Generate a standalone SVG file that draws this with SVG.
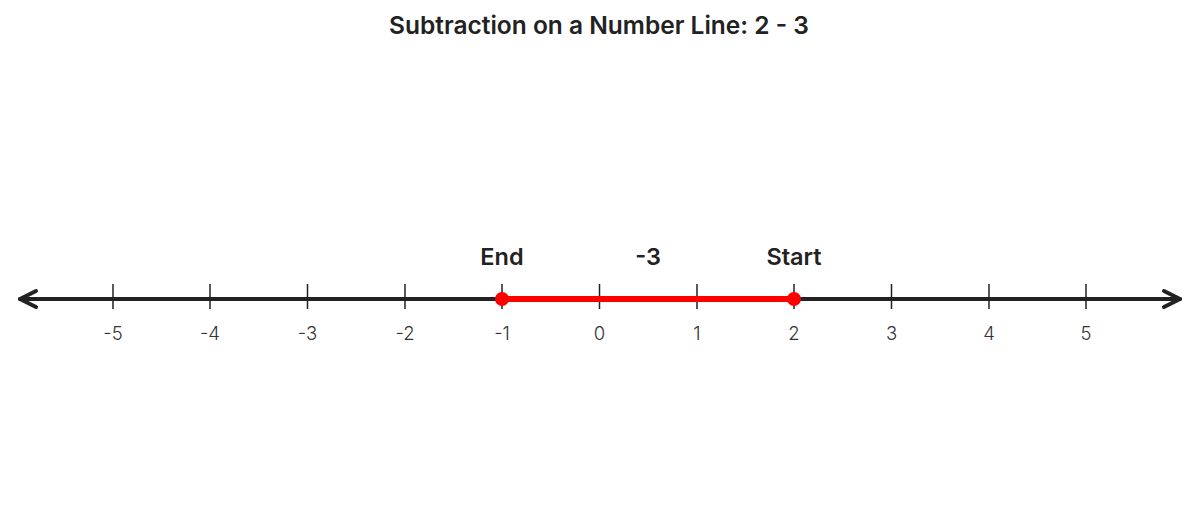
<svg xmlns="http://www.w3.org/2000/svg" width="1200" height="530" viewBox="0 0 1200 530">
<style>
.title{font-family:Inter,"Open Sans",sans-serif;font-size:24.5px;font-weight:600;fill:#222;text-anchor:middle}
.lbl{font-family:Inter,"Open Sans",sans-serif;font-size:23.5px;font-weight:600;fill:#222;text-anchor:middle}
.num{font-family:Inter,"Open Sans",sans-serif;font-size:18.5px;font-weight:300;fill:#333;text-anchor:middle}
.tick{stroke:#222;stroke-width:1.5}
.axis{stroke:#222;stroke-width:4;fill:none;stroke-linecap:round;stroke-linejoin:round}
</style>
<rect width="1200" height="530" fill="#fff"/>
<text class="title" x="599" y="34">Subtraction on a Number Line: 2 - 3</text>
<g id="axis">
<line class="axis" x1="20" y1="299" x2="1180" y2="299"/>
<polyline class="axis" points="36,291 20,299 36,307"/>
<polyline class="axis" points="1164,291 1180,299 1164,307"/>
</g>
<g id="ticks">
<line class="tick" x1="113" y1="284" x2="113" y2="309"/>
<line class="tick" x1="210" y1="284" x2="210" y2="309"/>
<line class="tick" x1="307.5" y1="284" x2="307.5" y2="309"/>
<line class="tick" x1="405" y1="284" x2="405" y2="309"/>
<line class="tick" x1="502" y1="284" x2="502" y2="309"/>
<line class="tick" x1="599.5" y1="284" x2="599.5" y2="309"/>
<line class="tick" x1="697" y1="284" x2="697" y2="309"/>
<line class="tick" x1="794" y1="284" x2="794" y2="309"/>
<line class="tick" x1="891.5" y1="284" x2="891.5" y2="309"/>
<line class="tick" x1="989" y1="284" x2="989" y2="309"/>
<line class="tick" x1="1086" y1="284" x2="1086" y2="309"/>
</g>
<g id="numbers">
<text class="num" x="113" y="340">-5</text>
<text class="num" x="210" y="340">-4</text>
<text class="num" x="307.5" y="340">-3</text>
<text class="num" x="405" y="340">-2</text>
<text class="num" x="502" y="340">-1</text>
<text class="num" x="599.5" y="340">0</text>
<text class="num" x="697" y="340">1</text>
<text class="num" x="794" y="340">2</text>
<text class="num" x="891.5" y="340">3</text>
<text class="num" x="989" y="340">4</text>
<text class="num" x="1086" y="340">5</text>
</g>
<g id="jump">
<line x1="502" y1="299" x2="794" y2="299" stroke="#ff0000" stroke-width="6"/>
<circle cx="502" cy="299" r="7" fill="#ff0000"/>
<circle cx="794" cy="299" r="7" fill="#ff0000"/>
</g>
<g id="labels">
<text class="lbl" x="502" y="265">End</text>
<text class="lbl" x="648" y="265">-3</text>
<text class="lbl" x="794" y="265">Start</text>
</g>
</svg>
